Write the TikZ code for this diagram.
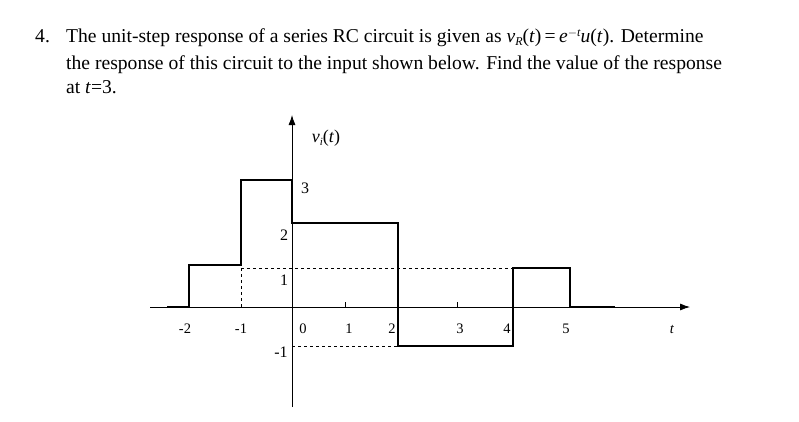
\documentclass[tikz,border=0pt]{standalone}
\usepackage{fontspec}
\setmainfont{Liberation Serif}
\usetikzlibrary{arrows.meta}
\newcommand{\itx}[1]{\textit{#1}}
\begin{document}
\begin{tikzpicture}[x=1pt,y=-1pt,
  sig/.style={line width=1.6pt},
  ax/.style={line width=0.8pt},
  dsh/.style={dashed,line width=0.7pt},
  lbl/.style={font=\fontsize{14.5}{16}\selectfont,inner sep=0pt},
  txt/.style={font=\fontsize{19.6}{22}\selectfont,anchor=base west,inner sep=0pt}]
\useasboundingbox (0,0) rectangle (799,421);
\node[txt] (n4) at (35,42) {4.};
\node[txt] (l1) at (66,42) {The unit-step response of a series RC circuit is given as \itx{v}\raisebox{-3pt}{\fontsize{12}{12}\selectfont\itx{R}}(\itx{t})\,=\,\itx{e}\raisebox{6pt}{\fontsize{12}{12}\selectfont$-$\itx{t}}\itx{u}(\itx{t}). Determine};
\node[txt] (l2) at (66,69) {the response of this circuit to the input shown below. Find the value of the response};
\node[txt] (l3) at (66,93) {at \textit{t}=3.};
% axes
\coordinate (xs) at (150,307); \coordinate (xe) at (690,307);
\coordinate (ys) at (292,407); \coordinate (ye) at (292,115);
\draw[ax,-{Latex[length=10pt,width=7pt]}] (xs) -- (xe);
\draw[ax,-{Latex[length=10pt,width=7pt]}] (ys) -- (ye);
\draw[ax] (345,307) -- (345,302) (457,307) -- (457,302);
% dashed
\draw[dsh] (241,268) -- (513,268);
\draw[dsh] (241,268) -- (241,307);
\draw[dsh] (292,346) -- (398,346);
% signal
\draw[sig] (167,307) -- (189,307) -- (189,265) -- (241,265) -- (241,180) -- (292,180) -- (292,223) -- (398,223) -- (398,346) -- (513,346) -- (513,268) -- (570,268) -- (570,307) -- (615,307);
% labels
\node[lbl,font=\fontsize{18}{20}\selectfont] (vi) at (326,138) {\itx{v}\raisebox{-3pt}{\fontsize{11}{11}\selectfont\itx{i}}(\itx{t})};
\node[lbl,font=\fontsize{16}{18}\selectfont] (y3) at (305,188) {3};
\node[lbl,font=\fontsize{16}{18}\selectfont] (y2) at (284,235) {2};
\node[lbl,font=\fontsize{16}{18}\selectfont] (y1) at (284,280) {1};
\node[lbl,font=\fontsize{16}{18}\selectfont] (ym1) at (281,352) {-1};
\foreach \v/\px in {-2/185,-1/241,0/303,1/349,2/392,3/460,4/507,5/566}
  \node[lbl] (x\v) at (\px,329) {\v};
\node[lbl] (tt) at (672,329) {\textit{t}};
\end{tikzpicture}
\end{document}
